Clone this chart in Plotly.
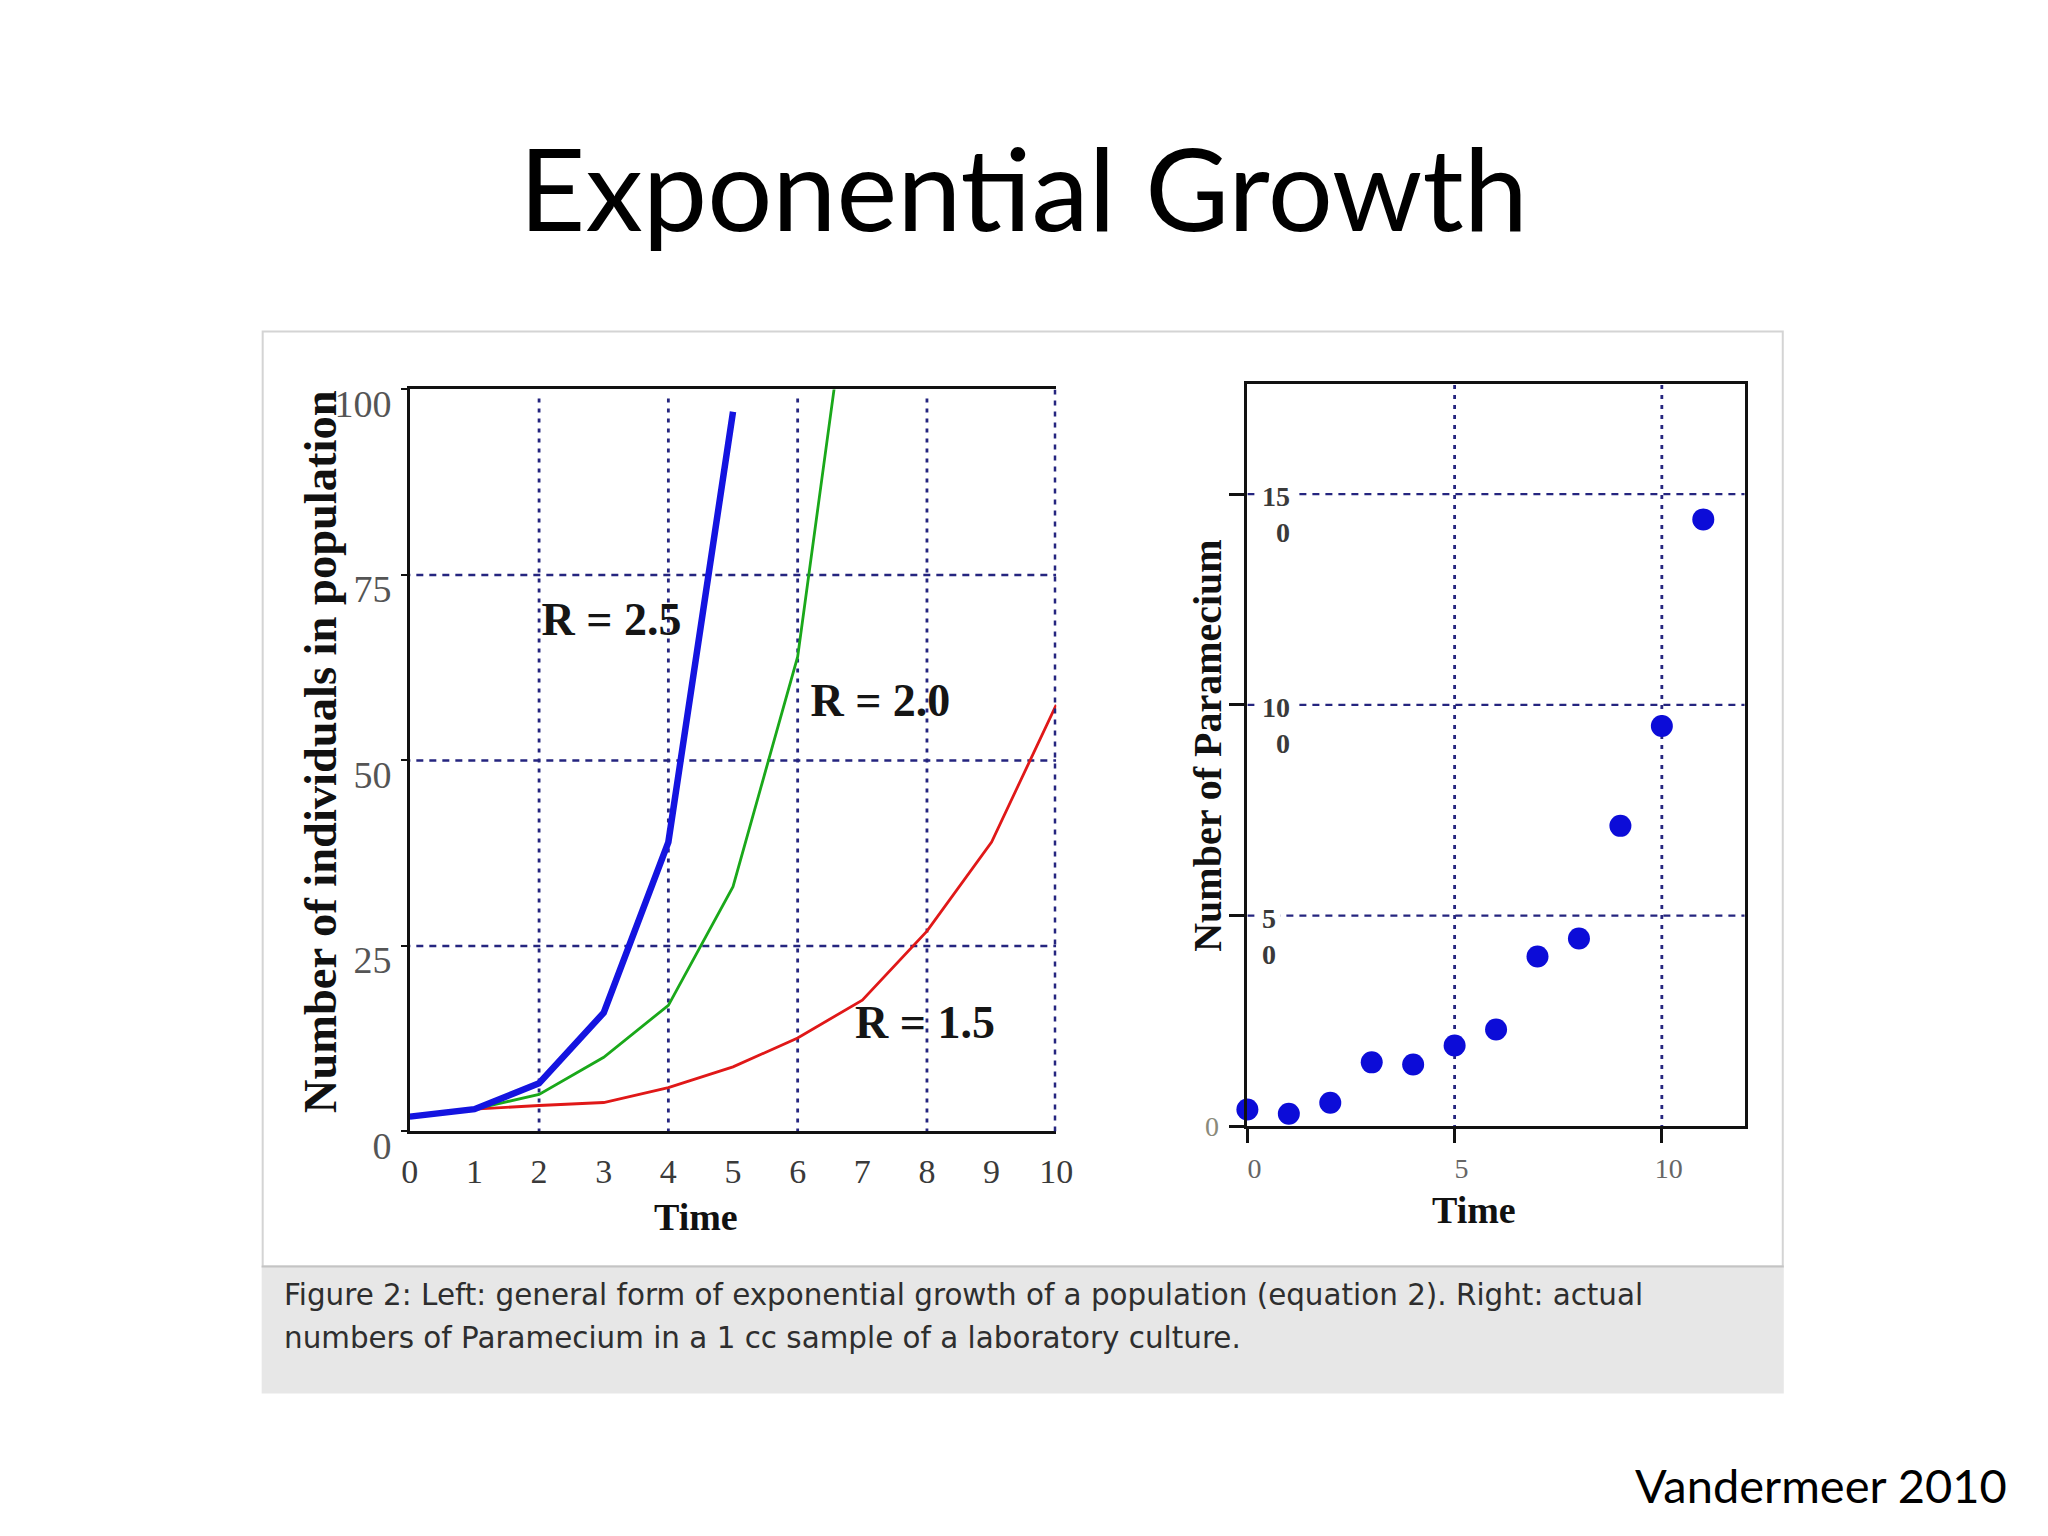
import plotly.graph_objects as go

W, H = 2048, 1536

# ---------------- data ----------------
r25_time = [0, 1, 2, 3, 4, 5]
r25_pop = [2, 3, 6.5, 16, 39, 97]
r20_time = [0, 1, 2, 3, 4, 5, 6, 7]
r20_pop = [2, 3, 5, 10, 17, 33, 64, 128]
r15_time = [0, 1, 2, 3, 4, 5, 6, 7, 8, 9, 10]
r15_pop = [2, 3, 3.5, 3.9, 5.9, 8.7, 12.6, 17.7, 27, 39, 57.5]

curve_labels = ["R = 2.5", "R = 2.0", "R = 1.5"]
curve_label_x = [3.12, 7.28, 7.97]
curve_label_y = [68.5, 57.5, 14.2]

para_time = [0, 1, 2, 3, 4, 5, 6, 7, 8, 9, 10, 11]
para_count = [4, 3, 5.6, 15.2, 14.7, 19.2, 23, 40.3, 44.6, 71.3, 95, 144]

left_xticks = [0, 1, 2, 3, 4, 5, 6, 7, 8, 9, 10]
left_xtick_text = ["0", "1", "2", "3", "4", "5", "6", "7", "8", "9", "10"]
left_yticks = [0, 25, 50, 75, 100]
left_ytick_text = ["0", "25", "50", "75", "100"]
left_vgrid = [2, 4, 6, 8]
left_hgrid = [25, 50, 75]

right_xticks = [0, 5, 10]
right_xtick_text = ["0", "5", "10"]
right_yticks = [0, 50, 100, 150]
right_ytick_text = ["0", "5<br>0", "10<br>0", "15<br>0"]
right_vgrid = [5, 10]
right_hgrid = [50, 100, 150]

title_text = "Exponential Growth"
caption_lines = [
    "Figure 2: Left: general form of exponential growth of a population (equation 2). Right: actual",
    "numbers of Paramecium in a 1 cc sample of a laboratory culture.",
]
credit_text = "Vandermeer 2010"

# page-capture compensation (the captured page is slightly offset and scaled)
OX, OY, SX, SY = 10.5, 10.5, 0.9866, 0.9727


def PX(x):
    return ((x - OX) / SX) / W


def PY(y):
    return 1 - ((y - OY) / SY) / H


SERIF = "Liberation Serif"
CAPTION_FONT = "DejaVu Sans"
GRID = "#25257f"

fig = go.Figure()

# left chart curves
fig.add_trace(go.Scatter(x=r15_time, y=r15_pop, mode="lines",
                         line=dict(color="#e01818", width=2.8), xaxis="x", yaxis="y"))
fig.add_trace(go.Scatter(x=r20_time, y=r20_pop, mode="lines",
                         line=dict(color="#1aa81a", width=2.8), xaxis="x", yaxis="y"))
fig.add_trace(go.Scatter(x=r25_time, y=r25_pop, mode="lines",
                         line=dict(color="#1414e0", width=6.5), xaxis="x", yaxis="y"))
fig.add_trace(go.Scatter(x=curve_label_x, y=curve_label_y, mode="text",
                         text=["<b>" + t + "</b>" for t in curve_labels],
                         textfont=dict(family=SERIF, size=46, color="#151515"),
                         cliponaxis=False, xaxis="x", yaxis="y"))

# right chart points
fig.add_trace(go.Scatter(x=para_time, y=para_count, mode="markers",
                         marker=dict(color="#0c0cd8", size=22, line=dict(width=0)),
                         cliponaxis=False, xaxis="x2", yaxis="y2"))

shapes = []
# image frame and caption strip
shapes.append(dict(type="rect", xref="paper", yref="paper",
                   x0=PX(264), x1=PX(1783), y0=PY(1270), y1=PY(335),
                   line=dict(color="#d4d4d4", width=2), fillcolor="white", layer="below"))
shapes.append(dict(type="rect", xref="paper", yref="paper",
                   x0=PX(263), x1=PX(1784), y0=PY(1397), y1=PY(1270),
                   line=dict(width=0), fillcolor="#e7e7e7", layer="below"))
shapes.append(dict(type="line", xref="paper", yref="paper",
                   x0=PX(263), x1=PX(1784), y0=PY(1270), y1=PY(1270),
                   line=dict(color="#c4c4c4", width=2), layer="below"))

# left chart grid
for gx in left_vgrid:
    shapes.append(dict(type="line", xref="x", yref="y", x0=gx, x1=gx, y0=-1.5, y1=99.5,
                       line=dict(color=GRID, width=2.8, dash="4px,6px"), layer="below"))
shapes.append(dict(type="line", xref="x", yref="y", x0=10, x1=10, y0=-1.5, y1=100,
                   line=dict(color=GRID, width=5, dash="5px,6px"), layer="above"))
for gy in left_hgrid:
    shapes.append(dict(type="line", xref="x", yref="y", x0=-0.1, x1=10, y0=gy, y1=gy,
                       line=dict(color=GRID, width=2.6, dash="7px,6px"), layer="below"))

# right chart grid
for gx in right_vgrid:
    shapes.append(dict(type="line", xref="x2", yref="y2", x0=gx, x1=gx, y0=-3, y1=176,
                       line=dict(color=GRID, width=2.8, dash="4px,6px"), layer="below"))
for gy in right_hgrid:
    shapes.append(dict(type="line", xref="x2", yref="y2", x0=0, x1=12, y0=gy, y1=gy,
                       line=dict(color=GRID, width=2.4, dash="7px,6px"), layer="below"))

annotations = []
# titles / texts
annotations.append(dict(text=title_text, xref="paper", yref="paper", x=PX(1024), y=PY(190),
                        xanchor="center", yanchor="middle", showarrow=False,
                        font=dict(family="Lato", size=115, color="#000000")))
annotations.append(dict(text=credit_text, xref="paper", yref="paper", x=PX(2009), y=PY(1489),
                        xanchor="right", yanchor="middle", showarrow=False,
                        font=dict(family="Lato", size=47, color="#000000")))
for i, line in enumerate(caption_lines):
    annotations.append(dict(text=line, xref="paper", yref="paper", x=PX(283), y=PY(1299 + 43 * i),
                            xanchor="left", yanchor="middle", showarrow=False,
                            font=dict(family=CAPTION_FONT, size=29.4, color="#2e2e2e")))

# left axis titles
annotations.append(dict(text="<b>Number of individuals in population</b>", xref="paper", yref="paper",
                        x=PX(322), y=PY(755), textangle=-90, xanchor="center", yanchor="middle",
                        showarrow=False, font=dict(family=SERIF, size=46.5, color="#111111")))
annotations.append(dict(text="<b>Time</b>", xref="paper", yref="paper", x=PX(697), y=PY(1221),
                        xanchor="center", yanchor="middle", showarrow=False,
                        font=dict(family=SERIF, size=38, color="#111111")))
# right axis titles
annotations.append(dict(text="<b>Number of Paramecium</b>", xref="paper", yref="paper",
                        x=PX(1208), y=PY(749), textangle=-90, xanchor="center", yanchor="middle",
                        showarrow=False, font=dict(family=SERIF, size=40, color="#111111")))
annotations.append(dict(text="<b>Time</b>", xref="paper", yref="paper", x=PX(1474), y=PY(1214),
                        xanchor="center", yanchor="middle", showarrow=False,
                        font=dict(family=SERIF, size=38, color="#111111")))
# right chart inner y tick labels
for v, t in zip(right_yticks, right_ytick_text):
    if v == 0:
        continue
    annotations.append(dict(text="<b>" + t + "</b>", xref="paper", yref="y2", x=PX(1258), y=v,
                            xanchor="left", yanchor="top", align="right", yshift=18,
                            bgcolor="white", borderpad=4, showarrow=False,
                            font=dict(family=SERIF, size=28, color="#3a3a3a")))

axis_common = dict(showgrid=False, zeroline=False, showline=True, linecolor="#111111",
                   linewidth=2.6, fixedrange=True)

fig.update_layout(
    width=W, height=H,
    margin=dict(l=0, r=0, t=0, b=0),
    paper_bgcolor="white", plot_bgcolor="rgba(0,0,0,0)",
    showlegend=False,
    xaxis=dict(domain=[PX(411), PX(1057)], range=[0, 10], anchor="y",
               tickvals=left_xticks, ticktext=left_xtick_text, ticks="",
               tickfont=dict(family=SERIF, size=34, color="#3a3a3a"),
               ticklabelstandoff=8, mirror=True, **axis_common),
    yaxis=dict(domain=[PY(1135), PY(393)], range=[0, 100], anchor="x",
               tickvals=left_yticks, ticktext=left_ytick_text, ticks="outside", ticklen=6,
               tickcolor="#111111", tickwidth=2,
               tickfont=dict(family=SERIF, size=38, color="#555555"),
               ticklabelshift=14, ticklabelstandoff=2, **axis_common),
    xaxis2=dict(domain=[PX(1248), PX(1745)], range=[0, 12], anchor="y2",
                tickvals=right_xticks, ticktext=right_xtick_text, ticks="outside", ticklen=14,
                tickcolor="#111111", tickwidth=2.5,
                tickfont=dict(family=SERIF, size=28, color="#666666"),
                ticklabelshift=7, ticklabelstandoff=1, mirror=True, **axis_common),
    yaxis2=dict(domain=[PY(1130), PY(388)], range=[0, 176], anchor="x2",
                tickvals=right_yticks, ticktext=["0", "", "", ""], ticks="outside", ticklen=16,
                tickcolor="#111111", tickwidth=2.5,
                tickfont=dict(family=SERIF, size=28, color="#8a8a7a"),
                ticklabelstandoff=4, mirror=True, **axis_common),
    shapes=shapes,
    annotations=annotations,
)

fig.write_html("out.html")
